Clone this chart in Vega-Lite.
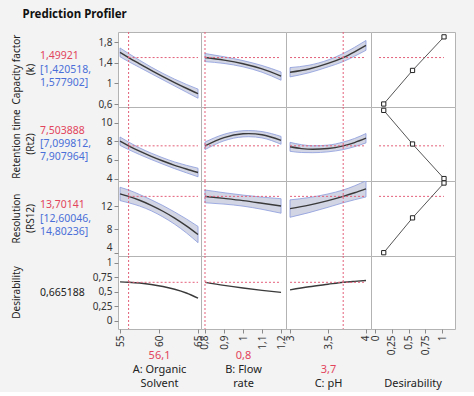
{
"$schema":"https://vega.github.io/schema/vega-lite/v6.json",
"background":"#f3f3f3",
"padding":{"left":0,"top":8,"right":20,"bottom":0},
"title":{"text":"Prediction Profiler","anchor":"start","fontSize":11.5,"fontWeight":"bold","font":"Noto Sans","color":"#111111","dx":22,"offset":11},
"columns":5,"spacing":0,"bounds":"flush",
"resolve":{"scale":{"x":"independent","y":"independent"}},
"datasets":{
"curves":[
{"r":1,"c":1,"x":55,"y":1.60,"lo":1.515,"hi":1.685},
{"r":1,"c":1,"x":56.1,"y":1.49921,"lo":1.420518,"hi":1.577902},
{"r":1,"c":1,"x":57.5,"y":1.378,"lo":1.308,"hi":1.448},
{"r":1,"c":1,"x":59,"y":1.251,"lo":1.188,"hi":1.314},
{"r":1,"c":1,"x":60.5,"y":1.130,"lo":1.068,"hi":1.192},
{"r":1,"c":1,"x":62,"y":1.015,"lo":0.949,"hi":1.081},
{"r":1,"c":1,"x":63.5,"y":0.905,"lo":0.830,"hi":0.980},
{"r":1,"c":1,"x":65,"y":0.80,"lo":0.712,"hi":0.888},
{"r":1,"c":2,"x":0.8,"y":1.49921,"lo":1.420518,"hi":1.577902},
{"r":1,"c":2,"x":0.9,"y":1.45,"lo":1.385,"hi":1.515},
{"r":1,"c":2,"x":1.0,"y":1.38,"lo":1.32,"hi":1.44},
{"r":1,"c":2,"x":1.1,"y":1.28,"lo":1.215,"hi":1.345},
{"r":1,"c":2,"x":1.2,"y":1.14,"lo":1.06,"hi":1.22},
{"r":1,"c":3,"x":3,"y":1.215,"lo":1.125,"hi":1.305},
{"r":1,"c":3,"x":3.25,"y":1.278,"lo":1.205,"hi":1.351},
{"r":1,"c":3,"x":3.5,"y":1.385,"lo":1.318,"hi":1.452},
{"r":1,"c":3,"x":3.7,"y":1.49921,"lo":1.420518,"hi":1.577902},
{"r":1,"c":3,"x":3.85,"y":1.611,"lo":1.525,"hi":1.697},
{"r":1,"c":3,"x":4,"y":1.735,"lo":1.64,"hi":1.83},
{"r":2,"c":1,"x":55,"y":8.0,"lo":7.55,"hi":8.45},
{"r":2,"c":1,"x":56.1,"y":7.503888,"lo":7.099812,"hi":7.907964},
{"r":2,"c":1,"x":57.5,"y":6.93,"lo":6.57,"hi":7.29},
{"r":2,"c":1,"x":59,"y":6.38,"lo":6.04,"hi":6.72},
{"r":2,"c":1,"x":60.5,"y":5.88,"lo":5.54,"hi":6.22},
{"r":2,"c":1,"x":62,"y":5.42,"lo":5.06,"hi":5.78},
{"r":2,"c":1,"x":63.5,"y":5.02,"lo":4.62,"hi":5.42},
{"r":2,"c":1,"x":65,"y":4.65,"lo":4.19,"hi":5.11},
{"r":2,"c":2,"x":0.8,"y":7.503888,"lo":7.099812,"hi":7.907964},
{"r":2,"c":2,"x":0.9,"y":8.39,"lo":8.04,"hi":8.74},
{"r":2,"c":2,"x":1.0,"y":8.79,"lo":8.46,"hi":9.12},
{"r":2,"c":2,"x":1.03,"y":8.81,"lo":8.48,"hi":9.14},
{"r":2,"c":2,"x":1.1,"y":8.69,"lo":8.35,"hi":9.03},
{"r":2,"c":2,"x":1.2,"y":8.09,"lo":7.67,"hi":8.51},
{"r":2,"c":3,"x":3,"y":7.40,"lo":6.92,"hi":7.88},
{"r":2,"c":3,"x":3.15,"y":7.21,"lo":6.79,"hi":7.63},
{"r":2,"c":3,"x":3.3,"y":7.136,"lo":6.77,"hi":7.51},
{"r":2,"c":3,"x":3.5,"y":7.217,"lo":6.86,"hi":7.58},
{"r":2,"c":3,"x":3.7,"y":7.503888,"lo":7.099812,"hi":7.907964},
{"r":2,"c":3,"x":3.85,"y":7.855,"lo":7.415,"hi":8.295},
{"r":2,"c":3,"x":4,"y":8.32,"lo":7.82,"hi":8.82},
{"r":3,"c":1,"x":55,"y":14.125,"lo":12.975,"hi":15.275},
{"r":3,"c":1,"x":56.1,"y":13.70141,"lo":12.60046,"hi":14.80236},
{"r":3,"c":1,"x":57.5,"y":13.03,"lo":12.03,"hi":14.03},
{"r":3,"c":1,"x":59,"y":12.165,"lo":11.215,"hi":13.115},
{"r":3,"c":1,"x":60.5,"y":11.14,"lo":10.16,"hi":12.12},
{"r":3,"c":1,"x":62,"y":9.96,"lo":8.91,"hi":11.01},
{"r":3,"c":1,"x":63.5,"y":8.62,"lo":7.42,"hi":9.82},
{"r":3,"c":1,"x":65,"y":7.125,"lo":5.725,"hi":8.525},
{"r":3,"c":2,"x":0.8,"y":13.70141,"lo":12.60046,"hi":14.80236},
{"r":3,"c":2,"x":0.9,"y":13.35,"lo":12.37,"hi":14.33},
{"r":3,"c":2,"x":1.0,"y":12.97,"lo":12.02,"hi":13.92},
{"r":3,"c":2,"x":1.1,"y":12.52,"lo":11.47,"hi":13.57},
{"r":3,"c":2,"x":1.2,"y":12.05,"lo":10.80,"hi":13.30},
{"r":3,"c":3,"x":3,"y":11.6,"lo":10.1,"hi":13.1},
{"r":3,"c":3,"x":3.25,"y":12.2,"lo":10.9,"hi":13.5},
{"r":3,"c":3,"x":3.5,"y":12.97,"lo":11.82,"hi":14.12},
{"r":3,"c":3,"x":3.7,"y":13.70141,"lo":12.60046,"hi":14.80236},
{"r":3,"c":3,"x":3.85,"y":14.32,"lo":13.12,"hi":15.52},
{"r":3,"c":3,"x":4,"y":15.0,"lo":13.6,"hi":16.4},
{"r":4,"c":1,"x":55,"y":0.672},
{"r":4,"c":1,"x":56.1,"y":0.665188},
{"r":4,"c":1,"x":57.5,"y":0.652},
{"r":4,"c":1,"x":59,"y":0.628},
{"r":4,"c":1,"x":60.5,"y":0.592},
{"r":4,"c":1,"x":62,"y":0.545},
{"r":4,"c":1,"x":63.5,"y":0.48},
{"r":4,"c":1,"x":65,"y":0.39},
{"r":4,"c":2,"x":0.8,"y":0.665188},
{"r":4,"c":2,"x":0.9,"y":0.612},
{"r":4,"c":2,"x":1.0,"y":0.566},
{"r":4,"c":2,"x":1.1,"y":0.526},
{"r":4,"c":2,"x":1.2,"y":0.49},
{"r":4,"c":3,"x":3,"y":0.533},
{"r":4,"c":3,"x":3.25,"y":0.587},
{"r":4,"c":3,"x":3.5,"y":0.631},
{"r":4,"c":3,"x":3.7,"y":0.665188},
{"r":4,"c":3,"x":3.85,"y":0.682},
{"r":4,"c":3,"x":4,"y":0.696}
],
"vlines":[{"c":1,"x":56.1},{"c":2,"x":0.8},{"c":3,"x":3.7}],
"hlines":[
{"r":1,"c":1,"x0":56.1,"x1":65,"y":1.49921},{"r":1,"c":2,"x0":0.8,"x1":1.2,"y":1.49921},{"r":1,"c":3,"x0":3,"x1":4,"y":1.49921},{"r":1,"c":4,"x0":0.06,"x1":1.03,"y":1.49921},
{"r":2,"c":1,"x0":56.1,"x1":65,"y":7.503888},{"r":2,"c":2,"x0":0.8,"x1":1.2,"y":7.503888},{"r":2,"c":3,"x0":3,"x1":4,"y":7.503888},{"r":2,"c":4,"x0":0.06,"x1":1.03,"y":7.503888},
{"r":3,"c":1,"x0":56.1,"x1":65,"y":13.70141},{"r":3,"c":2,"x0":0.8,"x1":1.2,"y":13.70141},{"r":3,"c":3,"x0":3,"x1":4,"y":13.70141},{"r":3,"c":4,"x0":0.06,"x1":1.03,"y":13.70141},
{"r":4,"c":1,"x0":56.1,"x1":65,"y":0.665188},{"r":4,"c":2,"x0":0.8,"x1":1.2,"y":0.665188},{"r":4,"c":3,"x0":3,"x1":4,"y":0.665188}
],
"dfun":[
{"r":1,"d":0.13,"v":0.6},{"r":1,"d":0.56,"v":1.25},{"r":1,"d":1.03,"v":1.9},
{"r":2,"d":0.13,"v":11.3},{"r":2,"d":0.56,"v":7.7},{"r":2,"d":1.03,"v":4.0},
{"r":3,"d":0.13,"v":4.0},{"r":3,"d":0.56,"v":10.0},{"r":3,"d":1.03,"v":16.0}
],
"rowlabels":[
{"r":1,"slot":0,"line":2,"text":"Capacity factor\n(k)","kind":"d"},
{"r":1,"slot":1,"line":1,"text":"1,49921","kind":"pred"},
{"r":1,"slot":1,"line":2,"text":"[1,420518,","kind":"ci"},
{"r":1,"slot":1,"line":3,"text":"1,577902]","kind":"ci"},
{"r":2,"slot":0,"line":2,"text":"Retention time\n(Rt2)","kind":"d"},
{"r":2,"slot":1,"line":1,"text":"7,503888","kind":"pred"},
{"r":2,"slot":1,"line":2,"text":"[7,099812,","kind":"ci"},
{"r":2,"slot":1,"line":3,"text":"7,907964]","kind":"ci"},
{"r":3,"slot":0,"line":2,"text":"Resolution\n(RS12)","kind":"d"},
{"r":3,"slot":1,"line":1,"text":"13,70141","kind":"pred"},
{"r":3,"slot":1,"line":2,"text":"[12,60046,","kind":"ci"},
{"r":3,"slot":1,"line":3,"text":"14,80236]","kind":"ci"},
{"r":4,"slot":0,"line":2,"text":"Desirability","kind":"d"},
{"r":4,"slot":1,"line":2,"text":"0,665188","kind":"d"}
],
"collabels":[
{"c":1,"line":1,"text":"56,1","kind":"pred"},
{"c":1,"line":2,"text":"A: Organic","kind":"d"},
{"c":1,"line":3,"text":"Solvent","kind":"d"},
{"c":2,"line":1,"text":"0,8","kind":"pred"},
{"c":2,"line":2,"text":"B: Flow","kind":"d"},
{"c":2,"line":3,"text":"rate","kind":"d"},
{"c":3,"line":2,"text":"3,7","kind":"pred"},
{"c":3,"line":3,"text":"C: pH","kind":"d"},
{"c":4,"line":3,"text":"Desirability","kind":"d"}
]
},
"concat":[
{"width":117,"height":75,"view":{"stroke":"transparent","fill":"transparent"},"data":{"name":"rowlabels"},"transform":[{"filter":"datum.r==1"}],"layer":[
 {"transform":[{"filter":"datum.slot==0"}],"mark":{"type":"text","angle":270,"baseline":"top","align":"center","lineBreak":"\n","fontSize":10,"color":"#222222","lineHeight":14},"encoding":{"x":{"field":"slot","type":"quantitative","scale":{"domain":[-0.3929,3.7857],"nice":false,"zero":false},"axis":null},"text":{"field":"text"}}},
 {"transform":[{"filter":"datum.slot==1"}],"mark":{"type":"text","align":"left","fontSize":10.5},"encoding":{"x":{"field":"slot","type":"quantitative","axis":null},"y":{"field":"line","type":"quantitative","scale":{"domain":[-0.778,4.778],"reverse":true,"nice":false,"zero":false},"axis":null},"text":{"field":"text"},"color":{"field":"kind","type":"nominal","scale":{"domain":["pred","ci","d"],"range":["#e2445c","#4a6fd8","#222222"]},"legend":null}}}
]},
{"width":83,"height":75,"layer":[
 {"data":{"name":"curves"},"transform":[{"filter":"datum.r==1&&datum.c==1"}],"mark":{"type":"area","fill":"#d2d5e4","stroke":"#8a9bdc","strokeWidth":0.8,"interpolate":"monotone","clip":true},"encoding":{"x":{"field":"x","type":"quantitative","scale":{"domain":[54.74,65.38],"nice":false,"zero":false},"axis":null},"y":{"field":"lo","type":"quantitative","scale":{"domain":[0.542,1.994],"nice":false,"zero":false},"axis":{"values":[0.6,1,1.4,1.8],"format":".6~g","labelExpr":"replace(datum.label,'.',',')","title":null}},"y2":{"field":"hi"}}},
 {"data":{"name":"curves"},"transform":[{"filter":"datum.r==1&&datum.c==1"}],"mark":{"type":"line","color":"#3a3a3a","strokeWidth":1.4,"interpolate":"monotone"},"encoding":{"x":{"field":"x","type":"quantitative","axis":null},"y":{"field":"y","type":"quantitative","axis":{"values":[0.6,1,1.4,1.8],"format":".6~g","labelExpr":"replace(datum.label,'.',',')","title":null}}}},
 {"data":{"name":"vlines"},"transform":[{"filter":"datum.c==1"}],"mark":{"type":"rule","color":"#e3607a","strokeDash":[2,2]},"encoding":{"x":{"field":"x","type":"quantitative","axis":null}}},
 {"data":{"name":"hlines"},"transform":[{"filter":"datum.r==1&&datum.c==1"}],"mark":{"type":"rule","color":"#e3607a","strokeDash":[2,2]},"encoding":{"x":{"field":"x0","type":"quantitative","axis":null},"x2":{"field":"x1"},"y":{"field":"y","type":"quantitative","axis":{"values":[0.6,1,1.4,1.8],"format":".6~g","labelExpr":"replace(datum.label,'.',',')","title":null}}}}
]},
{"width":85,"height":75,"layer":[
 {"data":{"name":"curves"},"transform":[{"filter":"datum.r==1&&datum.c==2"}],"mark":{"type":"area","fill":"#d2d5e4","stroke":"#8a9bdc","strokeWidth":0.8,"interpolate":"monotone","clip":true},"encoding":{"x":{"field":"x","type":"quantitative","scale":{"domain":[0.779,1.226],"nice":false,"zero":false},"axis":null},"y":{"field":"lo","type":"quantitative","scale":{"domain":[0.542,1.994],"nice":false,"zero":false},"axis":null},"y2":{"field":"hi"}}},
 {"data":{"name":"curves"},"transform":[{"filter":"datum.r==1&&datum.c==2"}],"mark":{"type":"line","color":"#3a3a3a","strokeWidth":1.4,"interpolate":"monotone"},"encoding":{"x":{"field":"x","type":"quantitative","axis":null},"y":{"field":"y","type":"quantitative","axis":null}}},
 {"data":{"name":"vlines"},"transform":[{"filter":"datum.c==2"}],"mark":{"type":"rule","color":"#e3607a","strokeDash":[2,2]},"encoding":{"x":{"field":"x","type":"quantitative","axis":null}}},
 {"data":{"name":"hlines"},"transform":[{"filter":"datum.r==1&&datum.c==2"}],"mark":{"type":"rule","color":"#e3607a","strokeDash":[2,2]},"encoding":{"x":{"field":"x0","type":"quantitative","axis":null},"x2":{"field":"x1"},"y":{"field":"y","type":"quantitative","axis":null}}}
]},
{"width":85,"height":75,"layer":[
 {"data":{"name":"curves"},"transform":[{"filter":"datum.r==1&&datum.c==3"}],"mark":{"type":"area","fill":"#d2d5e4","stroke":"#8a9bdc","strokeWidth":0.8,"interpolate":"monotone","clip":true},"encoding":{"x":{"field":"x","type":"quantitative","scale":{"domain":[2.947,4.066],"nice":false,"zero":false},"axis":null},"y":{"field":"lo","type":"quantitative","scale":{"domain":[0.542,1.994],"nice":false,"zero":false},"axis":null},"y2":{"field":"hi"}}},
 {"data":{"name":"curves"},"transform":[{"filter":"datum.r==1&&datum.c==3"}],"mark":{"type":"line","color":"#3a3a3a","strokeWidth":1.4,"interpolate":"monotone"},"encoding":{"x":{"field":"x","type":"quantitative","axis":null},"y":{"field":"y","type":"quantitative","axis":null}}},
 {"data":{"name":"vlines"},"transform":[{"filter":"datum.c==3"}],"mark":{"type":"rule","color":"#e3607a","strokeDash":[2,2]},"encoding":{"x":{"field":"x","type":"quantitative","axis":null}}},
 {"data":{"name":"hlines"},"transform":[{"filter":"datum.r==1&&datum.c==3"}],"mark":{"type":"rule","color":"#e3607a","strokeDash":[2,2]},"encoding":{"x":{"field":"x0","type":"quantitative","axis":null},"x2":{"field":"x1"},"y":{"field":"y","type":"quantitative","axis":null}}}
]},
{"width":84,"height":75,"layer":[
 {"data":{"name":"hlines"},"transform":[{"filter":"datum.r==1&&datum.c==4"}],"mark":{"type":"rule","color":"#e3607a","strokeDash":[2,2]},"encoding":{"x":{"field":"x0","type":"quantitative","scale":{"domain":[-0.06,1.194],"nice":false,"zero":false},"axis":null},"x2":{"field":"x1"},"y":{"field":"y","type":"quantitative","scale":{"domain":[0.542,1.994],"nice":false,"zero":false},"axis":null}}},
 {"data":{"name":"dfun"},"transform":[{"filter":"datum.r==1"}],"mark":{"type":"line","color":"#555555","strokeWidth":1},"encoding":{"x":{"field":"d","type":"quantitative","axis":null},"y":{"field":"v","type":"quantitative","axis":null}}},
 {"data":{"name":"dfun"},"transform":[{"filter":"datum.r==1"}],"mark":{"type":"point","shape":"square","filled":true,"fill":"white","stroke":"#222222","strokeWidth":1,"size":18,"opacity":1},"encoding":{"x":{"field":"d","type":"quantitative","axis":null},"y":{"field":"v","type":"quantitative","axis":null}}}
]},
{"width":117,"height":74,"view":{"stroke":"transparent","fill":"transparent"},"data":{"name":"rowlabels"},"transform":[{"filter":"datum.r==2"}],"layer":[
 {"transform":[{"filter":"datum.slot==0"}],"mark":{"type":"text","angle":270,"baseline":"top","align":"center","lineBreak":"\n","fontSize":10,"color":"#222222","lineHeight":14},"encoding":{"x":{"field":"slot","type":"quantitative","scale":{"domain":[-0.3929,3.7857],"nice":false,"zero":false},"axis":null},"text":{"field":"text"}}},
 {"transform":[{"filter":"datum.slot==1"}],"mark":{"type":"text","align":"left","fontSize":10.5},"encoding":{"x":{"field":"slot","type":"quantitative","axis":null},"y":{"field":"line","type":"quantitative","scale":{"domain":[-0.778,4.778],"reverse":true,"nice":false,"zero":false},"axis":null},"text":{"field":"text"},"color":{"field":"kind","type":"nominal","scale":{"domain":["pred","ci","d"],"range":["#e2445c","#4a6fd8","#222222"]},"legend":null}}}
]},
{"width":83,"height":74,"layer":[
 {"data":{"name":"curves"},"transform":[{"filter":"datum.r==2&&datum.c==1"}],"mark":{"type":"area","fill":"#d2d5e4","stroke":"#8a9bdc","strokeWidth":0.8,"interpolate":"monotone","clip":true},"encoding":{"x":{"field":"x","type":"quantitative","scale":{"domain":[54.74,65.38],"nice":false,"zero":false},"axis":null},"y":{"field":"lo","type":"quantitative","scale":{"domain":[3.74,11.66],"nice":false,"zero":false},"axis":{"values":[4,6,8,10],"format":".6~g","labelExpr":"replace(datum.label,'.',',')","title":null}},"y2":{"field":"hi"}}},
 {"data":{"name":"curves"},"transform":[{"filter":"datum.r==2&&datum.c==1"}],"mark":{"type":"line","color":"#3a3a3a","strokeWidth":1.4,"interpolate":"monotone"},"encoding":{"x":{"field":"x","type":"quantitative","axis":null},"y":{"field":"y","type":"quantitative","axis":{"values":[4,6,8,10],"format":".6~g","labelExpr":"replace(datum.label,'.',',')","title":null}}}},
 {"data":{"name":"vlines"},"transform":[{"filter":"datum.c==1"}],"mark":{"type":"rule","color":"#e3607a","strokeDash":[2,2]},"encoding":{"x":{"field":"x","type":"quantitative","axis":null}}},
 {"data":{"name":"hlines"},"transform":[{"filter":"datum.r==2&&datum.c==1"}],"mark":{"type":"rule","color":"#e3607a","strokeDash":[2,2]},"encoding":{"x":{"field":"x0","type":"quantitative","axis":null},"x2":{"field":"x1"},"y":{"field":"y","type":"quantitative","axis":{"values":[4,6,8,10],"format":".6~g","labelExpr":"replace(datum.label,'.',',')","title":null}}}}
]},
{"width":85,"height":74,"layer":[
 {"data":{"name":"curves"},"transform":[{"filter":"datum.r==2&&datum.c==2"}],"mark":{"type":"area","fill":"#d2d5e4","stroke":"#8a9bdc","strokeWidth":0.8,"interpolate":"monotone","clip":true},"encoding":{"x":{"field":"x","type":"quantitative","scale":{"domain":[0.779,1.226],"nice":false,"zero":false},"axis":null},"y":{"field":"lo","type":"quantitative","scale":{"domain":[3.74,11.66],"nice":false,"zero":false},"axis":null},"y2":{"field":"hi"}}},
 {"data":{"name":"curves"},"transform":[{"filter":"datum.r==2&&datum.c==2"}],"mark":{"type":"line","color":"#3a3a3a","strokeWidth":1.4,"interpolate":"monotone"},"encoding":{"x":{"field":"x","type":"quantitative","axis":null},"y":{"field":"y","type":"quantitative","axis":null}}},
 {"data":{"name":"vlines"},"transform":[{"filter":"datum.c==2"}],"mark":{"type":"rule","color":"#e3607a","strokeDash":[2,2]},"encoding":{"x":{"field":"x","type":"quantitative","axis":null}}},
 {"data":{"name":"hlines"},"transform":[{"filter":"datum.r==2&&datum.c==2"}],"mark":{"type":"rule","color":"#e3607a","strokeDash":[2,2]},"encoding":{"x":{"field":"x0","type":"quantitative","axis":null},"x2":{"field":"x1"},"y":{"field":"y","type":"quantitative","axis":null}}}
]},
{"width":85,"height":74,"layer":[
 {"data":{"name":"curves"},"transform":[{"filter":"datum.r==2&&datum.c==3"}],"mark":{"type":"area","fill":"#d2d5e4","stroke":"#8a9bdc","strokeWidth":0.8,"interpolate":"monotone","clip":true},"encoding":{"x":{"field":"x","type":"quantitative","scale":{"domain":[2.947,4.066],"nice":false,"zero":false},"axis":null},"y":{"field":"lo","type":"quantitative","scale":{"domain":[3.74,11.66],"nice":false,"zero":false},"axis":null},"y2":{"field":"hi"}}},
 {"data":{"name":"curves"},"transform":[{"filter":"datum.r==2&&datum.c==3"}],"mark":{"type":"line","color":"#3a3a3a","strokeWidth":1.4,"interpolate":"monotone"},"encoding":{"x":{"field":"x","type":"quantitative","axis":null},"y":{"field":"y","type":"quantitative","axis":null}}},
 {"data":{"name":"vlines"},"transform":[{"filter":"datum.c==3"}],"mark":{"type":"rule","color":"#e3607a","strokeDash":[2,2]},"encoding":{"x":{"field":"x","type":"quantitative","axis":null}}},
 {"data":{"name":"hlines"},"transform":[{"filter":"datum.r==2&&datum.c==3"}],"mark":{"type":"rule","color":"#e3607a","strokeDash":[2,2]},"encoding":{"x":{"field":"x0","type":"quantitative","axis":null},"x2":{"field":"x1"},"y":{"field":"y","type":"quantitative","axis":null}}}
]},
{"width":84,"height":74,"layer":[
 {"data":{"name":"hlines"},"transform":[{"filter":"datum.r==2&&datum.c==4"}],"mark":{"type":"rule","color":"#e3607a","strokeDash":[2,2]},"encoding":{"x":{"field":"x0","type":"quantitative","scale":{"domain":[-0.06,1.194],"nice":false,"zero":false},"axis":null},"x2":{"field":"x1"},"y":{"field":"y","type":"quantitative","scale":{"domain":[3.74,11.66],"nice":false,"zero":false},"axis":null}}},
 {"data":{"name":"dfun"},"transform":[{"filter":"datum.r==2"}],"mark":{"type":"line","color":"#555555","strokeWidth":1},"encoding":{"x":{"field":"d","type":"quantitative","axis":null},"y":{"field":"v","type":"quantitative","axis":null}}},
 {"data":{"name":"dfun"},"transform":[{"filter":"datum.r==2"}],"mark":{"type":"point","shape":"square","filled":true,"fill":"white","stroke":"#222222","strokeWidth":1,"size":18,"opacity":1},"encoding":{"x":{"field":"d","type":"quantitative","axis":null},"y":{"field":"v","type":"quantitative","axis":null}}}
]},
{"width":117,"height":75,"view":{"stroke":"transparent","fill":"transparent"},"data":{"name":"rowlabels"},"transform":[{"filter":"datum.r==3"}],"layer":[
 {"transform":[{"filter":"datum.slot==0"}],"mark":{"type":"text","angle":270,"baseline":"top","align":"center","lineBreak":"\n","fontSize":10,"color":"#222222","lineHeight":14},"encoding":{"x":{"field":"slot","type":"quantitative","scale":{"domain":[-0.3929,3.7857],"nice":false,"zero":false},"axis":null},"text":{"field":"text"}}},
 {"transform":[{"filter":"datum.slot==1"}],"mark":{"type":"text","align":"left","fontSize":10.5},"encoding":{"x":{"field":"slot","type":"quantitative","axis":null},"y":{"field":"line","type":"quantitative","scale":{"domain":[-0.778,4.778],"reverse":true,"nice":false,"zero":false},"axis":null},"text":{"field":"text"},"color":{"field":"kind","type":"nominal","scale":{"domain":["pred","ci","d"],"range":["#e2445c","#4a6fd8","#222222"]},"legend":null}}}
]},
{"width":83,"height":75,"layer":[
 {"data":{"name":"curves"},"transform":[{"filter":"datum.r==3&&datum.c==1"}],"mark":{"type":"area","fill":"#d2d5e4","stroke":"#8a9bdc","strokeWidth":0.8,"interpolate":"monotone","clip":true},"encoding":{"x":{"field":"x","type":"quantitative","scale":{"domain":[54.74,65.38],"nice":false,"zero":false},"axis":null},"y":{"field":"lo","type":"quantitative","scale":{"domain":[3.43,16.35],"nice":false,"zero":false},"axis":{"values":[4,8,12],"format":".6~g","labelExpr":"replace(datum.label,'.',',')","title":null,"labelFlush":5}},"y2":{"field":"hi"}}},
 {"data":{"name":"curves"},"transform":[{"filter":"datum.r==3&&datum.c==1"}],"mark":{"type":"line","color":"#3a3a3a","strokeWidth":1.4,"interpolate":"monotone"},"encoding":{"x":{"field":"x","type":"quantitative","axis":null},"y":{"field":"y","type":"quantitative","axis":{"values":[4,8,12],"format":".6~g","labelExpr":"replace(datum.label,'.',',')","title":null,"labelFlush":5}}}},
 {"data":{"name":"vlines"},"transform":[{"filter":"datum.c==1"}],"mark":{"type":"rule","color":"#e3607a","strokeDash":[2,2]},"encoding":{"x":{"field":"x","type":"quantitative","axis":null}}},
 {"data":{"name":"hlines"},"transform":[{"filter":"datum.r==3&&datum.c==1"}],"mark":{"type":"rule","color":"#e3607a","strokeDash":[2,2]},"encoding":{"x":{"field":"x0","type":"quantitative","axis":null},"x2":{"field":"x1"},"y":{"field":"y","type":"quantitative","axis":{"values":[4,8,12],"format":".6~g","labelExpr":"replace(datum.label,'.',',')","title":null,"labelFlush":5}}}}
]},
{"width":85,"height":75,"layer":[
 {"data":{"name":"curves"},"transform":[{"filter":"datum.r==3&&datum.c==2"}],"mark":{"type":"area","fill":"#d2d5e4","stroke":"#8a9bdc","strokeWidth":0.8,"interpolate":"monotone","clip":true},"encoding":{"x":{"field":"x","type":"quantitative","scale":{"domain":[0.779,1.226],"nice":false,"zero":false},"axis":null},"y":{"field":"lo","type":"quantitative","scale":{"domain":[3.43,16.35],"nice":false,"zero":false},"axis":null},"y2":{"field":"hi"}}},
 {"data":{"name":"curves"},"transform":[{"filter":"datum.r==3&&datum.c==2"}],"mark":{"type":"line","color":"#3a3a3a","strokeWidth":1.4,"interpolate":"monotone"},"encoding":{"x":{"field":"x","type":"quantitative","axis":null},"y":{"field":"y","type":"quantitative","axis":null}}},
 {"data":{"name":"vlines"},"transform":[{"filter":"datum.c==2"}],"mark":{"type":"rule","color":"#e3607a","strokeDash":[2,2]},"encoding":{"x":{"field":"x","type":"quantitative","axis":null}}},
 {"data":{"name":"hlines"},"transform":[{"filter":"datum.r==3&&datum.c==2"}],"mark":{"type":"rule","color":"#e3607a","strokeDash":[2,2]},"encoding":{"x":{"field":"x0","type":"quantitative","axis":null},"x2":{"field":"x1"},"y":{"field":"y","type":"quantitative","axis":null}}}
]},
{"width":85,"height":75,"layer":[
 {"data":{"name":"curves"},"transform":[{"filter":"datum.r==3&&datum.c==3"}],"mark":{"type":"area","fill":"#d2d5e4","stroke":"#8a9bdc","strokeWidth":0.8,"interpolate":"monotone","clip":true},"encoding":{"x":{"field":"x","type":"quantitative","scale":{"domain":[2.947,4.066],"nice":false,"zero":false},"axis":null},"y":{"field":"lo","type":"quantitative","scale":{"domain":[3.43,16.35],"nice":false,"zero":false},"axis":null},"y2":{"field":"hi"}}},
 {"data":{"name":"curves"},"transform":[{"filter":"datum.r==3&&datum.c==3"}],"mark":{"type":"line","color":"#3a3a3a","strokeWidth":1.4,"interpolate":"monotone"},"encoding":{"x":{"field":"x","type":"quantitative","axis":null},"y":{"field":"y","type":"quantitative","axis":null}}},
 {"data":{"name":"vlines"},"transform":[{"filter":"datum.c==3"}],"mark":{"type":"rule","color":"#e3607a","strokeDash":[2,2]},"encoding":{"x":{"field":"x","type":"quantitative","axis":null}}},
 {"data":{"name":"hlines"},"transform":[{"filter":"datum.r==3&&datum.c==3"}],"mark":{"type":"rule","color":"#e3607a","strokeDash":[2,2]},"encoding":{"x":{"field":"x0","type":"quantitative","axis":null},"x2":{"field":"x1"},"y":{"field":"y","type":"quantitative","axis":null}}}
]},
{"width":84,"height":75,"layer":[
 {"data":{"name":"hlines"},"transform":[{"filter":"datum.r==3&&datum.c==4"}],"mark":{"type":"rule","color":"#e3607a","strokeDash":[2,2]},"encoding":{"x":{"field":"x0","type":"quantitative","scale":{"domain":[-0.06,1.194],"nice":false,"zero":false},"axis":null},"x2":{"field":"x1"},"y":{"field":"y","type":"quantitative","scale":{"domain":[3.43,16.35],"nice":false,"zero":false},"axis":null}}},
 {"data":{"name":"dfun"},"transform":[{"filter":"datum.r==3"}],"mark":{"type":"line","color":"#555555","strokeWidth":1},"encoding":{"x":{"field":"d","type":"quantitative","axis":null},"y":{"field":"v","type":"quantitative","axis":null}}},
 {"data":{"name":"dfun"},"transform":[{"filter":"datum.r==3"}],"mark":{"type":"point","shape":"square","filled":true,"fill":"white","stroke":"#222222","strokeWidth":1,"size":18,"opacity":1},"encoding":{"x":{"field":"d","type":"quantitative","axis":null},"y":{"field":"v","type":"quantitative","axis":null}}}
]},
{"width":117,"height":73,"view":{"stroke":"transparent","fill":"transparent"},"data":{"name":"rowlabels"},"transform":[{"filter":"datum.r==4"}],"layer":[
 {"transform":[{"filter":"datum.slot==0"}],"mark":{"type":"text","angle":270,"baseline":"top","align":"center","lineBreak":"\n","fontSize":10,"color":"#222222","lineHeight":14},"encoding":{"x":{"field":"slot","type":"quantitative","scale":{"domain":[-0.3929,3.7857],"nice":false,"zero":false},"axis":null},"text":{"field":"text"}}},
 {"transform":[{"filter":"datum.slot==1"}],"mark":{"type":"text","align":"left","fontSize":10.5},"encoding":{"x":{"field":"slot","type":"quantitative","axis":null},"y":{"field":"line","type":"quantitative","scale":{"domain":[-0.778,4.778],"reverse":true,"nice":false,"zero":false},"axis":null},"text":{"field":"text"},"color":{"field":"kind","type":"nominal","scale":{"domain":["pred","ci","d"],"range":["#e2445c","#4a6fd8","#222222"]},"legend":null}}}
]},
{"width":83,"height":73,"layer":[
 {"data":{"name":"curves"},"transform":[{"filter":"datum.r==4&&datum.c==1"}],"mark":{"type":"line","color":"#3a3a3a","strokeWidth":1.4,"interpolate":"monotone"},"encoding":{"x":{"field":"x","type":"quantitative","scale":{"domain":[54.74,65.38],"nice":false,"zero":false},"axis":{"values":[55,60,65],"format":".6~g","labelExpr":"replace(datum.label,'.',',')","title":null,"labelAngle":270}},"y":{"field":"y","type":"quantitative","scale":{"domain":[-0.144,1.121],"nice":false,"zero":false},"axis":{"values":[0,0.25,0.5,0.75,1],"format":".6~g","labelExpr":"replace(datum.label,'.',',')","title":null}}}},
 {"data":{"name":"vlines"},"transform":[{"filter":"datum.c==1"}],"mark":{"type":"rule","color":"#e3607a","strokeDash":[2,2]},"encoding":{"x":{"field":"x","type":"quantitative","axis":{"values":[55,60,65],"format":".6~g","labelExpr":"replace(datum.label,'.',',')","title":null,"labelAngle":270}}}},
 {"data":{"name":"hlines"},"transform":[{"filter":"datum.r==4&&datum.c==1"}],"mark":{"type":"rule","color":"#e3607a","strokeDash":[2,2]},"encoding":{"x":{"field":"x0","type":"quantitative","axis":{"values":[55,60,65],"format":".6~g","labelExpr":"replace(datum.label,'.',',')","title":null,"labelAngle":270}},"x2":{"field":"x1"},"y":{"field":"y","type":"quantitative","axis":{"values":[0,0.25,0.5,0.75,1],"format":".6~g","labelExpr":"replace(datum.label,'.',',')","title":null}}}}
]},
{"width":85,"height":73,"layer":[
 {"data":{"name":"curves"},"transform":[{"filter":"datum.r==4&&datum.c==2"}],"mark":{"type":"line","color":"#3a3a3a","strokeWidth":1.4,"interpolate":"monotone"},"encoding":{"x":{"field":"x","type":"quantitative","scale":{"domain":[0.779,1.226],"nice":false,"zero":false},"axis":{"values":[0.8,0.9,1,1.1,1.2],"format":".6~g","labelExpr":"replace(datum.label,'.',',')","title":null,"labelAngle":270}},"y":{"field":"y","type":"quantitative","scale":{"domain":[-0.144,1.121],"nice":false,"zero":false},"axis":null}}},
 {"data":{"name":"vlines"},"transform":[{"filter":"datum.c==2"}],"mark":{"type":"rule","color":"#e3607a","strokeDash":[2,2]},"encoding":{"x":{"field":"x","type":"quantitative","axis":{"values":[0.8,0.9,1,1.1,1.2],"format":".6~g","labelExpr":"replace(datum.label,'.',',')","title":null,"labelAngle":270}}}},
 {"data":{"name":"hlines"},"transform":[{"filter":"datum.r==4&&datum.c==2"}],"mark":{"type":"rule","color":"#e3607a","strokeDash":[2,2]},"encoding":{"x":{"field":"x0","type":"quantitative","axis":{"values":[0.8,0.9,1,1.1,1.2],"format":".6~g","labelExpr":"replace(datum.label,'.',',')","title":null,"labelAngle":270}},"x2":{"field":"x1"},"y":{"field":"y","type":"quantitative","axis":null}}}
]},
{"width":85,"height":73,"layer":[
 {"data":{"name":"curves"},"transform":[{"filter":"datum.r==4&&datum.c==3"}],"mark":{"type":"line","color":"#3a3a3a","strokeWidth":1.4,"interpolate":"monotone"},"encoding":{"x":{"field":"x","type":"quantitative","scale":{"domain":[2.947,4.066],"nice":false,"zero":false},"axis":{"values":[3,3.5,4],"format":".6~g","labelExpr":"replace(datum.label,'.',',')","title":null,"labelAngle":270}},"y":{"field":"y","type":"quantitative","scale":{"domain":[-0.144,1.121],"nice":false,"zero":false},"axis":null}}},
 {"data":{"name":"vlines"},"transform":[{"filter":"datum.c==3"}],"mark":{"type":"rule","color":"#e3607a","strokeDash":[2,2]},"encoding":{"x":{"field":"x","type":"quantitative","axis":{"values":[3,3.5,4],"format":".6~g","labelExpr":"replace(datum.label,'.',',')","title":null,"labelAngle":270}}}},
 {"data":{"name":"hlines"},"transform":[{"filter":"datum.r==4&&datum.c==3"}],"mark":{"type":"rule","color":"#e3607a","strokeDash":[2,2]},"encoding":{"x":{"field":"x0","type":"quantitative","axis":{"values":[3,3.5,4],"format":".6~g","labelExpr":"replace(datum.label,'.',',')","title":null,"labelAngle":270}},"x2":{"field":"x1"},"y":{"field":"y","type":"quantitative","axis":null}}}
]},
{"width":84,"height":73,"data":{"name":"dfun"},"transform":[{"filter":"datum.r==4"}],"mark":{"type":"point","shape":"square"},"encoding":{"x":{"field":"d","type":"quantitative","scale":{"domain":[-0.06,1.194],"nice":false,"zero":false},"axis":{"values":[0,0.25,0.5,0.75,1],"format":".6~g","labelExpr":"replace(datum.label,'.',',')","title":null,"labelAngle":270}},"y":{"field":"v","type":"quantitative","scale":{"domain":[-0.144,1.121],"nice":false,"zero":false},"axis":null}}},
{"width":117,"height":62,"view":{"stroke":"transparent","fill":"transparent"},"data":{"name":"collabels"},"transform":[{"filter":"datum.c==0"}],"mark":{"type":"text"},"encoding":{"text":{"field":"text"}}},
{"width":83,"height":62,"view":{"stroke":"transparent","fill":"transparent"},"data":{"name":"collabels"},"transform":[{"filter":"datum.c==1"}],"mark":{"type":"text","fontSize":11},"encoding":{"y":{"field":"line","type":"quantitative","scale":{"domain":[-0.971,3.506],"reverse":true,"nice":false,"zero":false},"axis":null},"text":{"field":"text"},"color":{"field":"kind","type":"nominal","scale":{"domain":["pred","ci","d"],"range":["#e2445c","#4a6fd8","#222222"]},"legend":null}}},
{"width":85,"height":62,"view":{"stroke":"transparent","fill":"transparent"},"data":{"name":"collabels"},"transform":[{"filter":"datum.c==2"}],"mark":{"type":"text","fontSize":11},"encoding":{"y":{"field":"line","type":"quantitative","scale":{"domain":[-0.971,3.506],"reverse":true,"nice":false,"zero":false},"axis":null},"text":{"field":"text"},"color":{"field":"kind","type":"nominal","scale":{"domain":["pred","ci","d"],"range":["#e2445c","#4a6fd8","#222222"]},"legend":null}}},
{"width":85,"height":62,"view":{"stroke":"transparent","fill":"transparent"},"data":{"name":"collabels"},"transform":[{"filter":"datum.c==3"}],"mark":{"type":"text","fontSize":11},"encoding":{"y":{"field":"line","type":"quantitative","scale":{"domain":[-0.971,3.506],"reverse":true,"nice":false,"zero":false},"axis":null},"text":{"field":"text"},"color":{"field":"kind","type":"nominal","scale":{"domain":["pred","ci","d"],"range":["#e2445c","#4a6fd8","#222222"]},"legend":null}}},
{"width":84,"height":62,"view":{"stroke":"transparent","fill":"transparent"},"data":{"name":"collabels"},"transform":[{"filter":"datum.c==4"}],"mark":{"type":"text","fontSize":11},"encoding":{"y":{"field":"line","type":"quantitative","scale":{"domain":[-0.971,3.506],"reverse":true,"nice":false,"zero":false},"axis":null},"text":{"field":"text"},"color":{"field":"kind","type":"nominal","scale":{"domain":["pred","ci","d"],"range":["#e2445c","#4a6fd8","#222222"]},"legend":null}}}
],
"config":{
"font":"Noto Sans",
"view":{"stroke":"#b3b3b3","fill":"white","strokeWidth":1},
"axis":{"grid":false,"domain":false,"tickColor":"#8a8a8a","tickSize":4,"labelColor":"#333333","labelFontSize":10,"labelFont":"Noto Sans","labelPadding":2},
"text":{"font":"Noto Sans"}
}
}
